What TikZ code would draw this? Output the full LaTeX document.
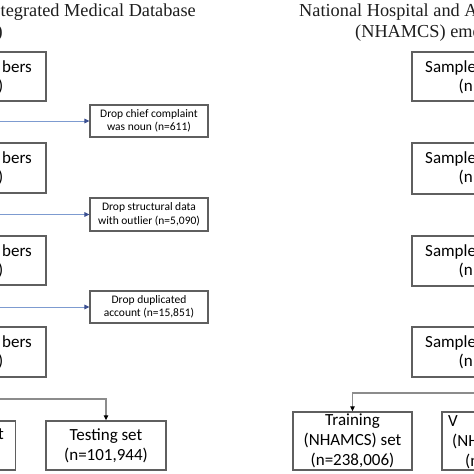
\documentclass[tikz,border=0pt]{standalone}
\usepackage{fontspec}
\setmainfont{Liberation Serif}
\newfontfamily\calfont{Carlito}
\usetikzlibrary{arrows.meta}
\definecolor{boxgray}{RGB}{95,95,95}
\definecolor{lineblue}{RGB}{125,155,208}
\definecolor{tipblue}{RGB}{60,80,145}
\definecolor{conngray}{RGB}{140,140,140}
\definecolor{titlecol}{RGB}{30,30,30}
\begin{document}
\begin{tikzpicture}[x=1pt,y=-1pt,
  bigbox/.style={draw=boxgray, line width=1.3pt, minimum width=120pt, minimum height=49pt, inner sep=0pt, align=center, font=\calfont\fontsize{17}{20}\selectfont},
  dropbox/.style={draw=boxgray, line width=1.1pt, minimum width=118pt, minimum height=32pt, inner sep=0pt, align=center, font=\calfont\fontsize{11.5}{13.5}\selectfont},
  bt/.style={font=\calfont\fontsize{17}{20}\selectfont, inner sep=0pt},
  titletext/.style={font=\fontsize{18.3}{21}\selectfont, text=titlecol, inner sep=0pt},
  bluearrow/.style={draw=lineblue, line width=1pt, -{Triangle[length=5pt,width=4.5pt,color=tipblue]}},
  grayarrow/.style={draw=conngray, line width=1.2pt, -{Triangle[length=5pt,width=4.5pt,color=black]}}
]
\useasboundingbox (0,0) rectangle (474,474);
\clip (0,0) rectangle (474,474);

% titles
\node[titletext, anchor=base west] (tl1) at (0.5,16) {tegrated Medical Database};
\node[titletext, anchor=base east] (tl2) at (3,37) {)};
\node[titletext, anchor=base west] (tr1) at (299,16) {National Hospital and A};
\node[titletext, anchor=base west] (tr2) at (355,37) {(NHAMCS) emer};

% left column boxes
\node[bigbox, minimum width=130pt] (L1) at (-19,76.5) {};
\node[bigbox, minimum width=130pt, minimum height=50pt] (L2) at (-19,168) {};
\node[bigbox, minimum width=130pt] (L3) at (-19,260.5) {};
\node[bigbox, minimum width=130pt, minimum height=50pt] (L4) at (-19,352) {};
\node[bt, anchor=base east] (L1a) at (32,72) {bers};
\node[bt, anchor=base east] (L1b) at (3.5,91) {0)};
\node[bt, anchor=base east] (L2a) at (32,163) {bers};
\node[bt, anchor=base east] (L2b) at (3.5,182) {0)};
\node[bt, anchor=base east] (L3a) at (32,256) {bers};
\node[bt, anchor=base east] (L3b) at (3.5,275) {0)};
\node[bt, anchor=base east] (L4a) at (32,347) {bers};
\node[bt, anchor=base east] (L4b) at (3.5,366) {0)};

% drop boxes
\node[dropbox] (D1) at (149,121) {Drop chief complaint\\was noun (n=611)};
\node[dropbox, minimum height=33pt] (D2) at (149,214.5) {Drop structural data\\with outlier (n=5,090)};
\node[dropbox] (D3) at (149,307) {Drop duplicated\\account (n=15,851)};
\coordinate (d1s) at (-19,121);
\coordinate (d2s) at (-19,214.5);
\coordinate (d3s) at (-19,307);
\draw[bluearrow] (d1s) -- (D1.west);
\draw[bluearrow] (d2s) -- (D2.west);
\draw[bluearrow] (d3s) -- (D3.west);

% bottom left
\node[bigbox] (LT) at (-44.4,445.5) {};
\node[bt, anchor=base east] (LTa) at (4,439) {set};
\node[bigbox] (T) at (106,445.5) {Testing set\\(n=101,944)};
\coordinate (j1) at (-19,399);
\draw[grayarrow] (L4.south) -- (j1) -| (T.north);

% right column boxes
\node[bigbox, minimum width=140pt] (R1) at (482,76.5) {};
\node[bigbox, minimum width=140pt, minimum height=51pt] (R2) at (482,168.5) {};
\node[bigbox, minimum width=140pt, minimum height=50pt] (R3) at (482,261) {};
\node[bigbox, minimum width=140pt, minimum height=50pt] (R4) at (482,352) {};
\node[bt, anchor=base west] (R1a) at (425,72) {Sample};
\node[bt, anchor=base west] (R1b) at (458.5,91) {(n};
\node[bt, anchor=base west] (R2a) at (425,163) {Sample};
\node[bt, anchor=base west] (R2b) at (458.5,182) {(n};
\node[bt, anchor=base west] (R3a) at (425,256) {Sample};
\node[bt, anchor=base west] (R3b) at (458.5,275) {(n};
\node[bt, anchor=base west] (R4a) at (425,347) {Sample};
\node[bt, anchor=base west] (R4b) at (458.5,366) {(n};

% bottom right
\node[bigbox, minimum width=119pt, minimum height=58pt] (TR) at (352.5,441) {Training\\(NHAMCS) set\\(n=238,006)};
\node[bigbox, minimum width=120pt, minimum height=58pt] (VA) at (502,441) {};
\node[bt, anchor=base west] (VAa) at (448,426) {V};
\node[bt, anchor=base west] (VAb) at (452,446) {(NH};
\node[bt, anchor=base west] (VAc) at (465,466) {(n};
\coordinate (j2) at (482,393);
\draw[grayarrow] (R4.south) -- (j2) -| (TR.north);
\end{tikzpicture}
\end{document}
